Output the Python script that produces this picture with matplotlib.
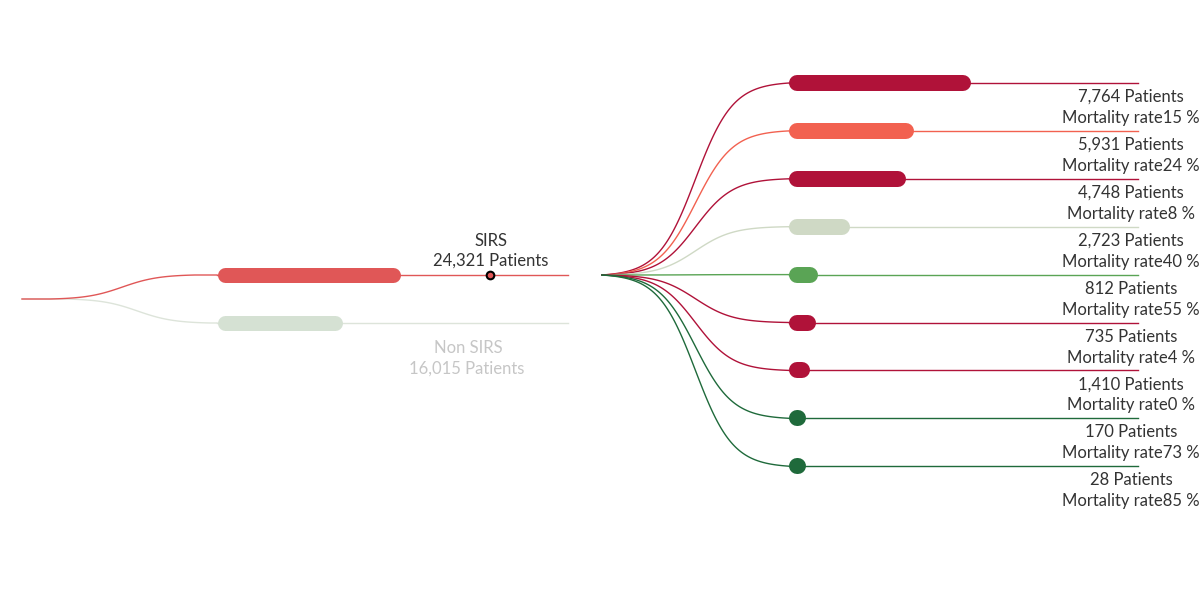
import numpy as np
import matplotlib
matplotlib.use('Agg')
import matplotlib.pyplot as plt

# Left split: SIRS vs Non SIRS
left_labels = ['SIRS', 'Non SIRS']
left_patients = [24321, 16015]
left_colors = ['#e05757', '#d5e1d3']
left_curve_colors = ['#e05757', '#dde4da']
left_text_colors = ['#333333', '#c6c6c6']

# Right split: sub-groups of SIRS
right_patients = [7764, 5931, 4748, 2723, 812, 735, 1410, 170, 28]
mortality = [15, 24, 8, 40, 55, 4, 0, 73, 85]
# bar sizes as drawn in the picture (patient units)
bar_size = [7764, 5100, 4720, 2100, 610, 515, 235, 45, 0]
right_colors = ['#b01239', '#f26150', '#b01239', '#cfd9c5', '#5aa455',
                '#b01239', '#b01239', '#1f6a3b', '#1f6a3b']

plt.rcParams['font.family'] = ['Lato', 'DejaVu Sans']

W, H = 1200, 607
fig = plt.figure(figsize=(W / 100, H / 100), dpi=100)
ax = fig.add_axes([0, 0, 1, 1])
ax.set_xlim(0, W)
ax.set_ylim(H, 0)
ax.axis('off')


def sigmoid_curve(x0, y0, x1, y1, n=120, k=5.0):
    t = np.linspace(0, 1, n)
    z = 1 / (1 + np.exp(-k * (2 * t - 1)))
    s = (z - z[0]) / (z[-1] - z[0])
    return x0 + (x1 - x0) * t, y0 + (y1 - y0) * s


def rounded_bar(x, y, width, thick, color):
    # thick line with round caps; axes units are pixels, 1 px = 0.72 pt
    r = thick / 2
    length = max(width - thick, 1.0)
    ax.plot([x + r, x + r + length], [y, y], color=color, lw=thick * 0.72,
            solid_capstyle='round', zorder=3)


# ---- left part ----
root_x, root_y = 22, 299
bar_x_left = 217
line_end_left = 568
left_rows = [275, 323]
left_starts = [50, 65]
left_ends = [195, 210]
left_scale = 168 / max(left_patients)
thick = 15

for i in [1, 0]:
    y = left_rows[i]
    cx, cy = sigmoid_curve(left_starts[i], root_y, left_ends[i], y, k=4.0)
    xs = np.concatenate([[root_x], cx, [bar_x_left]])
    ys = np.concatenate([[root_y], cy, [y]])
    ax.plot(xs, ys, color=left_curve_colors[i], lw=1.0, zorder=2)
    ax.plot([bar_x_left, line_end_left], [y, y], color=left_curve_colors[i],
            lw=1.0, zorder=2)
    rounded_bar(bar_x_left, y, thick + left_patients[i] * left_scale,
                thick, left_colors[i])

ax.plot([490], [left_rows[0]], marker='o', ms=5.5, mfc=left_colors[0],
        mec='black', mew=1.5, zorder=4)
ax.text(491, 241, left_labels[0], ha='center', va='center', fontsize=12,
        color=left_text_colors[0])
ax.text(491, 261, '{:,} Patients'.format(left_patients[0]), ha='center',
        va='center', fontsize=12, color=left_text_colors[0])
ax.text(468, 348, left_labels[1], ha='center', va='center', fontsize=12,
        color=left_text_colors[1])
ax.text(467, 369, '{:,} Patients'.format(left_patients[1]), ha='center',
        va='center', fontsize=12, color=left_text_colors[1])

# ---- right part ----
fan_x, fan_y = 602, 275
bar_x = 789
line_end = 1138
row_top, row_gap = 83, 47.9
right_scale = 166 / max(bar_size)
thick_r = 16

for i in range(len(right_patients)):
    y = row_top + i * row_gap
    c = right_colors[i]
    cx, cy = sigmoid_curve(fan_x, fan_y, bar_x, y)
    ax.plot(cx, cy, color=c, lw=1.0, zorder=2)
    ax.plot([bar_x, line_end], [y, y], color=c, lw=1.0, zorder=2)
    rounded_bar(bar_x, y, thick_r + bar_size[i] * right_scale, thick_r, c)
    ax.text(1131, y + 14, '{:,} Patients'.format(right_patients[i]),
            ha='center', va='center', fontsize=12, color='#333333')
    ax.text(1131, y + 35, 'Mortality rate{} %'.format(mortality[i]),
            ha='center', va='center', fontsize=12, color='#333333')

fig.savefig('out.png', dpi=100, facecolor='white')
